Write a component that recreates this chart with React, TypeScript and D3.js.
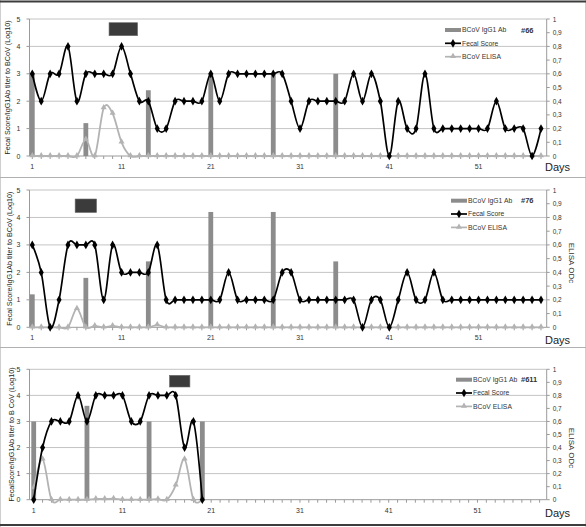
import * as d3 from "d3";

// days 1..58 on the x axis
const days = d3.range(1, 59);
const dayTicks = [1, 11, 21, 31, 41, 51];
const leftTicks = [0, 1, 2, 3, 4, 5];
const rightTicks = [0, 0.1, 0.2, 0.3, 0.4, 0.5, 0.6, 0.7, 0.8, 0.9, 1];
const rightLabels = ["0", "0,1", "0,2", "0,3", "0,4", "0,5", "0,6", "0,7", "0,8", "0,9", "1"];

// calf #66
const fecal66 = [3, 2, 3, 3, 4, 2, 3, 3, 3, 3, 4, 3, 2, 2, 1, 1, 2, 2, 2, 2, 3, 2, 3, 3, 3, 3, 3, 3, 3, 2,
  1, 2, 2, 2, 2, 2, 3, 2, 3, 2, 0, 2, 1, 1, 3, 1, 1, 1, 1, 1, 1, 1, 2, 1, 1, 1, 0, 1];
const elisa66 = [0, 0, 0, 0, 0, 0, 0.12, 0, 0.35, 0.31, 0.1, 0, 0, 0, 0, 0, 0, 0, 0, 0, 0, 0, 0, 0, 0, 0, 0, 0, 0, 0,
  0, 0, 0, 0, 0, 0, 0, 0, 0, 0, 0, 0, 0, 0, 0, 0, 0, 0, 0, 0, 0, 0, 0, 0, 0, 0, 0, 0];
const abDays66 = [1, 7, 14, 21, 28, 35];
const ab66 = [3, 1.2, 2.4, 3, 3, 3];
const box66 = [9.6, 12.8];

// calf #76
const fecal76 = [3, 2, 0, 1, 3, 3, 3, 3, 1, 3, 2, 2, 2, 2, 3, 1, 1, 1, 1, 1, 1, 1, 2, 1, 1, 1, 1, 1, 2, 2,
  1, 1, 1, 1, 1, 1, 1, 0, 1, 1, 0, 1, 2, 1, 1, 2, 1, 1, 1, 1, 1, 1, 1, 1, 1, 1, 1, 1];
const elisa76 = [0, 0, 0, 0, 0, 0.135, 0, 0.01, 0, 0.01, 0, 0, 0, 0, 0.016, 0, 0, 0, 0, 0, 0, 0, 0, 0, 0, 0, 0, 0, 0, 0,
  0, 0, 0, 0, 0, 0, 0, 0, 0, 0, 0, 0, 0, 0, 0, 0, 0, 0, 0, 0, 0, 0, 0, 0, 0, 0, 0, 0];
const abDays76 = [1, 7, 14, 21, 28, 35];
const ab76 = [1.2, 1.8, 2.4, 4.2, 4.2, 2.4];
const box76 = [5.8, 8.2];

// calf #611 (days 1..20)
const fecal611 = [0, 2, 3, 3, 3, 4, 3, 4, 4, 4, 4, 3, 3, 4, 4, 4, 4, 2, 3, 0];
const elisa611 = [0.09, 0.31, 0, 0, 0, 0, 0, 0.006, 0.006, 0.008, 0, 0, 0, 0, 0.004, 0, 0.11, 0.31, 0, 0];
const abDays611 = [1, 7, 14, 20];
const ab611 = [3, 3.6, 3, 3];
const box611 = [16.3, 18.6];

const FONT = "'Liberation Sans', Arial, sans-serif";
const BAR = "#8c8c8c";
const ELISA = "#b3b3b3";
const GRID = "#c4c4c4";

interface PanelCfg {
  id: string;
  fecal: number[];
  elisa: number[];
  abDays: number[];
  ab: number[];
  box: number[];
  title: string;
  top: number;
  bottom: number;
  x1: number;
  x58: number;
  titleX: number;
  odcY: number | null;
  boxTop: number;
  boxH: number;
  legX: number;
  legY: number;
  tickY: number;
  daysY: number;
}

const panels: PanelCfg[] = [
  {
    id: "#66", fecal: fecal66, elisa: elisa66, abDays: abDays66, ab: ab66, box: box66,
    title: "Fecal Score/IgG1Ab titer to BCoV (Log10)",
    top: 19, bottom: 156, x1: 32.3, x58: 541, titleX: 7, odcY: null, boxTop: 3.7, boxH: 13,
    legX: 445, legY: 30, tickY: 168.5, daysY: 171,
  },
  {
    id: "#76", fecal: fecal76, elisa: elisa76, abDays: abDays76, ab: ab76, box: box76,
    title: "Fecal Score/IgG1Ab titer to BCoV (Log10)",
    top: 190, bottom: 327.3, x1: 32.3, x58: 541, titleX: 9, odcY: 263, boxTop: 9, boxH: 13.5,
    legX: 451, legY: 200.7, tickY: 340, daysY: 344,
  },
  {
    id: "#611", fecal: fecal611, elisa: elisa611, abDays: abDays611, ab: ab611, box: box611,
    title: "FecalScore/IgG1Ab titer to B CoV (Log10)",
    top: 369.3, bottom: 499.7, x1: 33.7, x58: 539.6, titleX: 11.5, odcY: 448, boxTop: 6, boxH: 11.7,
    legX: 456, legY: 379.7, tickY: 512.5, daysY: 517,
  },
];

const diamond = d3.symbol(d3.symbolDiamond, 22)()!;
const triangle = d3.symbol(d3.symbolTriangle, 16)()!;

function Panel({ c }: { c: PanelCfg }) {
  const x = d3.scaleLinear().domain([1, 58]).range([c.x1, c.x58]);
  const y = d3.scaleLinear().domain([0, 5]).range([c.bottom, c.top]);
  const y2 = d3.scaleLinear().domain([0, 1]).range([c.bottom, c.top]);
  const axisL = 29.5;
  const axisR = 546.7;

  const fecalLine = d3.line<number>()
    .x((_, i) => x(i + 1))
    .y(d => y(d))
    .curve(d3.curveCardinal.tension(0));
  const elisaLine = d3.line<number>()
    .x((_, i) => x(i + 1))
    .y(d => y2(d))
    .curve(d3.curveCardinal.tension(0));

  const n = c.fecal.length;
  const midY = (c.top + c.bottom) / 2;

  return (
    <g fontFamily={FONT}>
      {/* gridlines */}
      {leftTicks.slice(1).map(t => (
        <line key={t} x1={axisL} x2={axisR} y1={y(t)} y2={y(t)} stroke={GRID} strokeWidth={1} />
      ))}
      {/* left axis */}
      <line x1={axisL} x2={axisL} y1={c.top} y2={c.bottom} stroke="#9a9a9a" />
      {leftTicks.map(t => (
        <g key={t}>
          <line x1={axisL - 3} x2={axisL} y1={y(t)} y2={y(t)} stroke="#9a9a9a" />
          <text x={axisL - 9} y={y(t) + 2.5} fontSize={7} textAnchor="end" fill="#333">{t}</text>
        </g>
      ))}
      <text transform={`translate(${c.titleX},${midY}) rotate(-90)`} fontSize={7.2} textAnchor="middle"
        dominantBaseline="central" fill="#222">{c.title}</text>
      {/* right axis */}
      <line x1={axisR} x2={axisR} y1={c.top} y2={c.bottom} stroke="#9a9a9a" />
      {rightTicks.map((t, i) => (
        <g key={t}>
          <line x1={axisR} x2={axisR + 3} y1={y2(t)} y2={y2(t)} stroke="#9a9a9a" />
          <text x={axisR + 6} y={y2(t) + 2.5} fontSize={6.5} fill="#333">{rightLabels[i]}</text>
        </g>
      ))}
      {c.odcY !== null && (
        <text transform={`translate(${571},${c.odcY}) rotate(90)`} fontSize={8} textAnchor="middle"
          dominantBaseline="central" fill="#333">ELISA ODc</text>
      )}
      {/* x axis */}
      <line x1={axisL} x2={axisR} y1={c.bottom} y2={c.bottom} stroke="#9a9a9a" />
      {days.map(d => (
        <line key={d} x1={x(d)} x2={x(d)} y1={c.bottom} y2={c.bottom + 3} stroke="#9a9a9a" />
      ))}
      {dayTicks.map(d => (
        <text key={d} x={x(d)} y={c.tickY} fontSize={7} textAnchor="middle" fill="#333">{d}</text>
      ))}
      <text x={545} y={c.daysY} fontSize={11} fill="#222">Days</text>

      {/* antibody bars */}
      {c.abDays.map((d, i) => (
        <rect key={d} x={x(d) - 2.4} width={4.8} y={y(c.ab[i])} height={y(0) - y(c.ab[i])} fill={BAR} />
      ))}

      {/* ELISA */}
      <path d={elisaLine(c.elisa)!} fill="none" stroke={ELISA} strokeWidth={1.8} />
      {c.elisa.map((v, i) => (
        <path key={i} d={triangle} transform={`translate(${x(i + 1)},${y2(v) - 0.5})`} fill={ELISA} />
      ))}

      {/* fecal score */}
      <path d={fecalLine(c.fecal)!} fill="none" stroke="#000" strokeWidth={1.7} />
      {c.fecal.map((v, i) => (
        <path key={i} d={diamond} transform={`translate(${x(i + 1)},${y(v)})`} fill="#000" />
      ))}
      {n < 58 && null}

      {/* diarrhea box */}
      <rect x={x(c.box[0])} width={x(c.box[1]) - x(c.box[0])} y={c.top + c.boxTop} height={c.boxH}
        fill="#3b3b3b" stroke="#6e6e6e" strokeWidth={0.6} />

      {/* legend */}
      <g transform={`translate(${c.legX},${c.legY})`} fontSize={6.8} fill="#333">
        <rect x={0} y={-2} width={16} height={4} fill={BAR} />
        <text x={17} y={2.4}>BCoV IgG1 Ab</text>
        <line x1={0} x2={16} y1={13.3} y2={13.3} stroke="#000" strokeWidth={1.7} />
        <path d={diamond} transform="translate(8,13.3)" fill="#000" />
        <text x={17} y={15.7}>Fecal Score</text>
        <line x1={0} x2={16} y1={26.7} y2={26.7} stroke={ELISA} strokeWidth={1.7} />
        <path d={triangle} transform="translate(8,26.2)" fill={ELISA} />
        <text x={17} y={29.1}>BCoV ELISA</text>
      </g>
      <text x={521} y={c.legY + 2.6} fontSize={7.5} fontWeight="bold" fill="#333">{c.id}</text>
    </g>
  );
}

export default function App() {
  return (
    <svg width={586} height={527} style={{ position: "absolute", left: 0, top: 0, background: "#fff" }}>
      <rect width={586} height={527} fill="#fff" />
      <line x1={0.5} x2={0.5} y1={0} y2={527} stroke="#cfcfcf" />
      <line x1={585.5} x2={585.5} y1={0} y2={527} stroke="#cfcfcf" />
      <line x1={0} x2={586} y1={1.5} y2={1.5} stroke="#3c3c3c" strokeWidth={2} />
      <line x1={0} x2={586} y1={177.5} y2={177.5} stroke="#b0b0b0" />
      <line x1={0} x2={586} y1={347.5} y2={347.5} stroke="#b0b0b0" />
      <line x1={0} x2={586} y1={525} y2={525} stroke="#3c3c3c" strokeWidth={2} />
      {panels.map(c => <Panel key={c.id} c={c} />)}
    </svg>
  );
}
